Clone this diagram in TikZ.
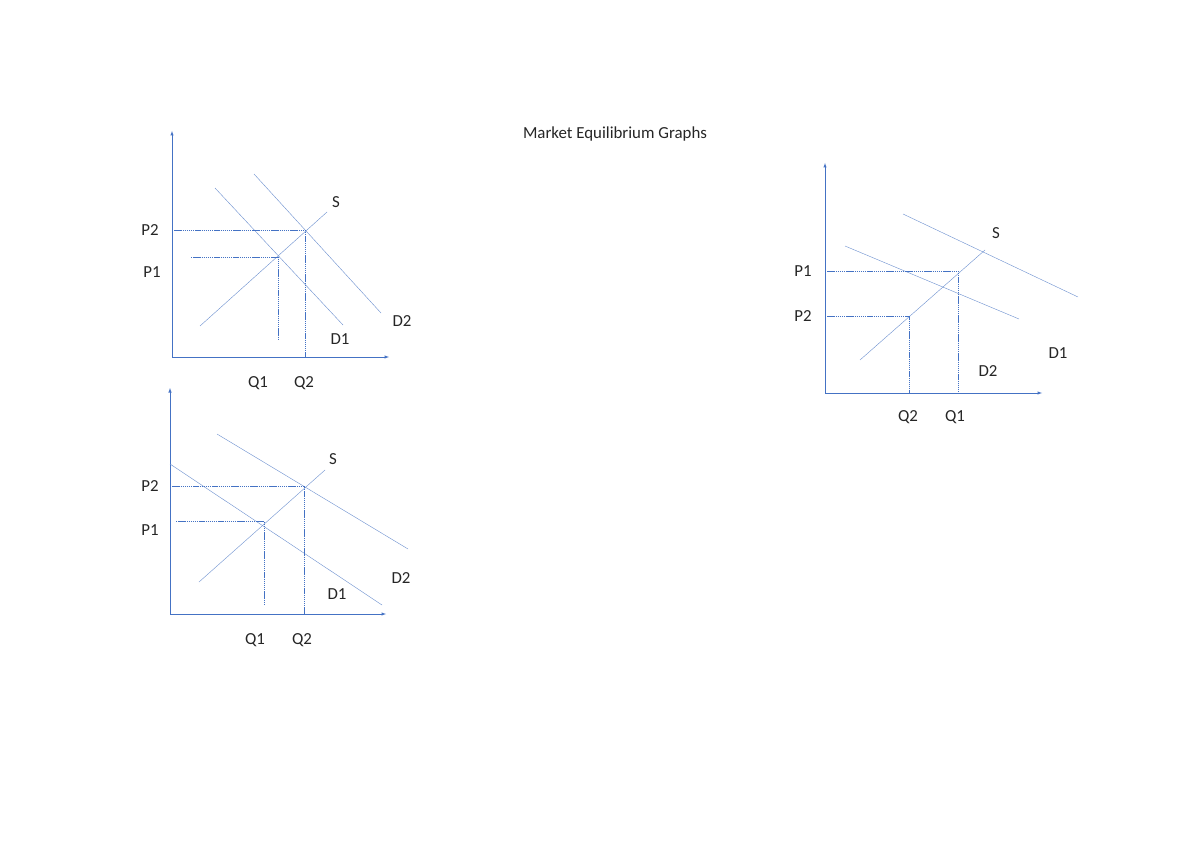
\documentclass[tikz,border=0pt]{standalone}
\usepackage{fontspec}
\setmainfont{Carlito}
\begin{document}
\begin{tikzpicture}[x=0.5mm,y=-0.5mm,
 ax/.style={draw=axblue,line width=1.2pt,-latex},
 cv/.style={draw=lnblue,line width=0.6pt},
 dl/.style={draw=axblue,line width=0.5pt,dash pattern=on 2pt off 1pt},
 lb/.style={font=\fontsize{24}{28}\selectfont,text=black!85,inner sep=0pt}]
\definecolor{axblue}{HTML}{4472C4}
\definecolor{lnblue}{HTML}{6F92D0}
\useasboundingbox (0,0) rectangle (1200,849);
\node[lb] (t) at (615,134) {Market Equilibrium Graphs};
% graph 1
\coordinate (o1) at (172,357);
\coordinate (y1) at (172,131); \coordinate (x1) at (389,357);
\draw[ax] (o1) -- (y1); \draw[ax] (o1) -- (x1);
\coordinate (d1a) at (215,188); \coordinate (d1b) at (343,325);
\coordinate (d2a) at (254,174); \coordinate (d2b) at (381,313);
\coordinate (sa) at (200,326); \coordinate (sb) at (327,212);
\draw[cv] (d1a)--(d1b); \draw[cv] (d2a)--(d2b); \draw[cv] (sa)--(sb);
\coordinate (e2) at (305,230); \coordinate (e1) at (278,257);
\coordinate (p2) at (172,230); \coordinate (p1) at (191,257);
\coordinate (q1) at (278,340); \coordinate (q2) at (305,357);
\draw[dl] (p2)--(e2)--(q2); \draw[dl] (p1)--(e1)--(q1);
\node[lb] (s1) at (336,202) {S};
\node[lb] (lp2) at (150,230) {P2};
\node[lb] (lp1) at (152,272) {P1};
\node[lb] (ld2) at (402,321) {D2};
\node[lb] (ld1) at (340,339) {D1};
\node[lb] (lq1) at (258,383) {Q1};
\node[lb] (lq2) at (304,383) {Q2};
% graph 2
\coordinate (o2) at (170,614);
\coordinate (y2) at (170,388); \coordinate (x2) at (386,614);
\draw[ax] (o2) -- (y2); \draw[ax] (o2) -- (x2);
\coordinate (f1a) at (170,464); \coordinate (f1b) at (382,605);
\coordinate (f2a) at (217,434); \coordinate (f2b) at (408,549);
\coordinate (ta) at (199,582); \coordinate (tb) at (325,470);
\draw[cv] (f1a)--(f1b); \draw[cv] (f2a)--(f2b); \draw[cv] (ta)--(tb);
\coordinate (g2) at (304,486); \coordinate (g1) at (264,521);
\coordinate (r2) at (170,486); \coordinate (r1) at (176,521);
\coordinate (u1) at (264,605); \coordinate (u2) at (304,614);
\draw[dl] (r2)--(g2)--(u2); \draw[dl] (r1)--(g1)--(u1);
\node[lb] (s2) at (333,459) {S};
\node[lb] (mp2) at (150,486) {P2};
\node[lb] (mp1) at (150,530) {P1};
\node[lb] (md2) at (401,578) {D2};
\node[lb] (md1) at (337,594) {D1};
\node[lb] (mq1) at (255,640) {Q1};
\node[lb] (mq2) at (302,640) {Q2};
% graph 3
\coordinate (o3) at (825,393);
\coordinate (y3) at (825,163); \coordinate (x3) at (1042,393);
\draw[ax] (o3) -- (y3); \draw[ax] (o3) -- (x3);
\coordinate (h1a) at (903,214); \coordinate (h1b) at (1078,297);
\coordinate (h2a) at (845,246); \coordinate (h2b) at (1019,319);
\coordinate (va) at (860,360); \coordinate (vb) at (985,250);
\draw[cv] (h1a)--(h1b); \draw[cv] (h2a)--(h2b); \draw[cv] (va)--(vb);
\coordinate (k1) at (958,271); \coordinate (k2) at (909,316);
\coordinate (w1) at (825,271); \coordinate (w2) at (825,316);
\coordinate (z1) at (958,393); \coordinate (z2) at (909,393);
\draw[dl] (w1)--(k1)--(z1); \draw[dl] (w2)--(k2)--(z2);
\node[lb] (s3) at (996,233) {S};
\node[lb] (np1) at (803,271) {P1};
\node[lb] (np2) at (803,316) {P2};
\node[lb] (nd1) at (1058,353) {D1};
\node[lb] (nd2) at (988,371) {D2};
\node[lb] (nq2) at (908,417) {Q2};
\node[lb] (nq1) at (955,417) {Q1};
\end{tikzpicture}
\end{document}
